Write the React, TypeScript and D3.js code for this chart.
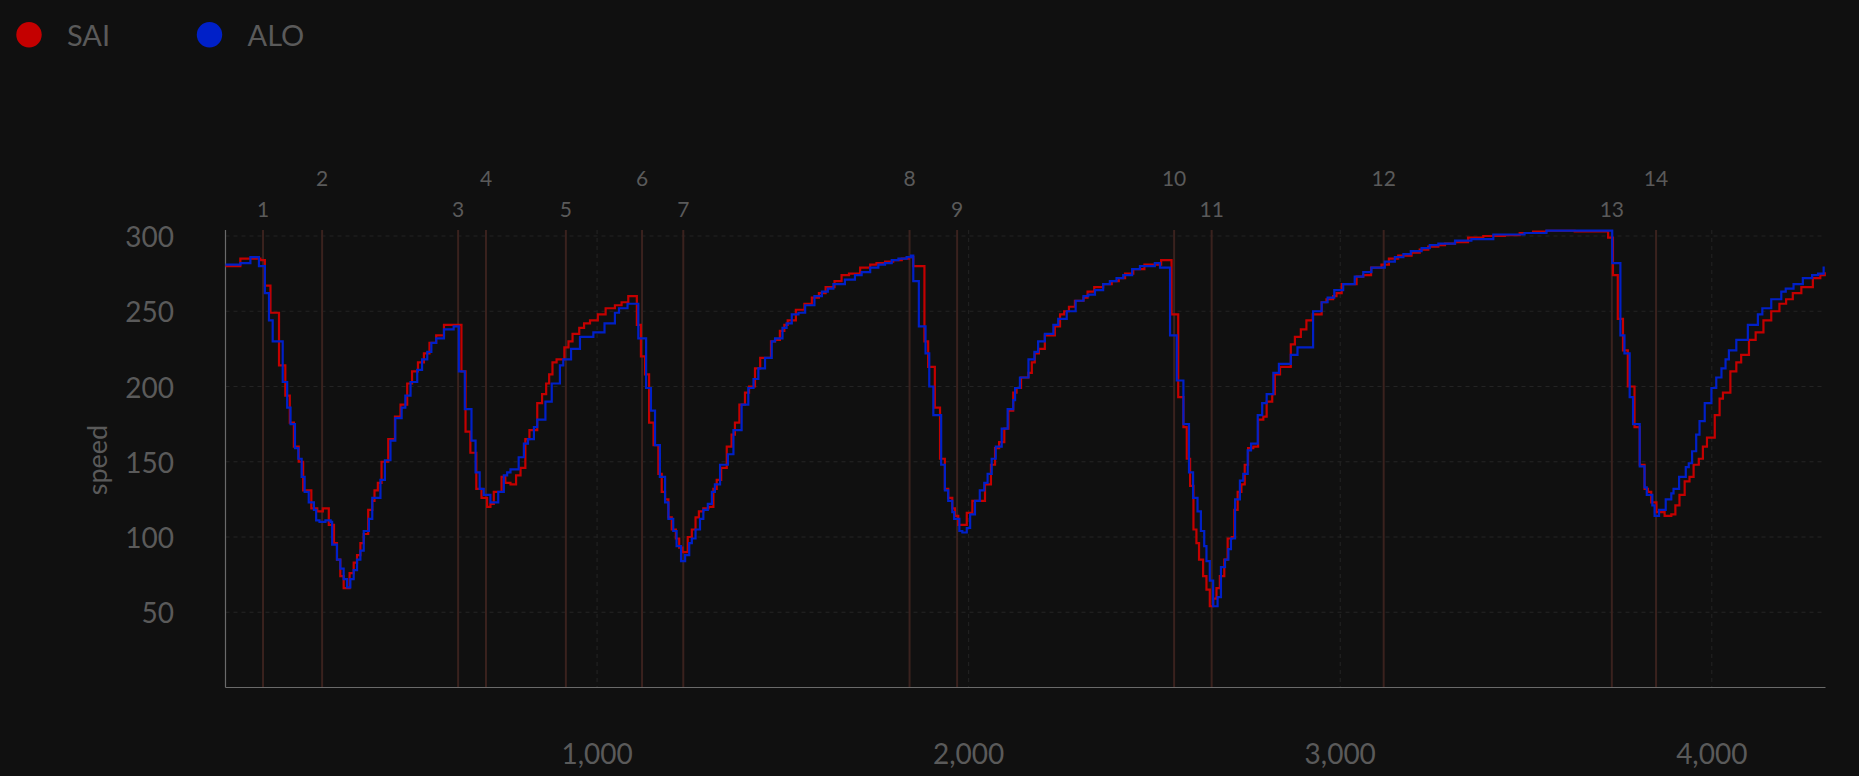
import React, { useEffect } from 'react';
import * as d3 from 'd3';

// ---- data ----
const seriesNames = ['SAI', 'ALO'];
const seriesColors = ['#c40000', '#0020c8'];

// [distance (m), speed (km/h)] step samples
const saiTrace: [number, number][] = [
  [0, 280], [40, 285], [94, 284], [106, 267], [121, 249], [144, 214], [161, 194], [173, 176], [184, 160], [197, 150],
  [209, 131], [231, 119], [247, 117], [262, 119], [278, 108], [292, 96], [300, 85], [309, 74], [318, 66], [334, 76],
  [345, 83], [354, 88], [363, 96], [372, 102], [384, 118], [395, 124], [401, 131], [410, 136], [420, 150], [438, 165],
  [456, 180], [471, 188], [489, 202], [502, 210], [518, 216], [534, 222], [549, 229], [567, 234], [588, 241], [635, 210],
  [646, 170], [659, 156], [675, 132], [689, 126], [704, 120], [713, 122], [722, 130], [743, 140], [753, 136], [767, 135],
  [782, 141], [794, 146], [807, 165], [818, 171], [839, 189], [852, 195], [863, 202], [871, 208], [880, 216], [891, 218],
  [912, 226], [923, 230], [934, 235], [952, 239], [965, 242], [981, 244], [1002, 248], [1023, 252], [1048, 254], [1066, 256],
  [1084, 260], [1107, 241], [1118, 220], [1129, 208], [1140, 176], [1152, 161], [1165, 142], [1174, 130], [1183, 125], [1192, 113],
  [1201, 105], [1212, 99], [1221, 93], [1230, 90], [1244, 100], [1255, 105], [1265, 113], [1274, 117], [1286, 119], [1300, 120],
  [1313, 132], [1322, 138], [1334, 146], [1349, 160], [1362, 168], [1371, 176], [1383, 188], [1398, 196], [1409, 200], [1425, 212],
  [1439, 219], [1468, 230], [1479, 231], [1492, 237], [1504, 241], [1513, 244], [1535, 251], [1558, 255], [1578, 259], [1597, 262],
  [1615, 266], [1639, 270], [1658, 274], [1678, 275], [1708, 279], [1735, 281], [1752, 282], [1775, 283], [1797, 284], [1820, 285],
  [1839, 286], [1851, 280], [1881, 230], [1891, 213], [1909, 186], [1923, 152], [1936, 132], [1945, 126], [1956, 119], [1963, 114],
  [1972, 108], [1995, 116], [2010, 124], [2044, 135], [2060, 148], [2071, 159], [2082, 163], [2096, 172], [2107, 184], [2120, 196],
  [2129, 199], [2141, 206], [2161, 209], [2170, 216], [2178, 222], [2189, 225], [2205, 234], [2232, 240], [2246, 248], [2257, 250],
  [2270, 253], [2286, 257], [2309, 259], [2320, 263], [2338, 266], [2362, 268], [2385, 270], [2404, 272], [2421, 275], [2443, 278],
  [2473, 281], [2518, 284], [2546, 248], [2564, 193], [2578, 173], [2587, 152], [2596, 134], [2605, 105], [2613, 96], [2620, 85],
  [2631, 74], [2640, 65], [2649, 54], [2658, 59], [2667, 66], [2676, 74], [2688, 85], [2697, 99], [2708, 100], [2715, 118],
  [2724, 130], [2734, 135], [2743, 148], [2752, 159], [2766, 160], [2779, 178], [2793, 180], [2802, 190], [2817, 195], [2824, 208],
  [2838, 213], [2867, 228], [2878, 233], [2894, 238], [2909, 244], [2926, 248], [2950, 256], [2963, 258], [2981, 260], [2990, 262],
  [3004, 268], [3044, 273], [3062, 274], [3083, 279], [3111, 281], [3131, 285], [3156, 287], [3192, 289], [3214, 291], [3237, 293],
  [3264, 294], [3282, 295], [3309, 296], [3344, 299], [3385, 300], [3443, 300.5], [3483, 302], [3519, 303], [3555, 303.5], [3631, 303],
  [3721, 299], [3734, 274], [3747, 245], [3761, 224], [3774, 200], [3792, 173], [3806, 148], [3819, 132], [3828, 130], [3837, 123],
  [3851, 116.5], [3873, 114], [3891, 115], [3902, 121], [3913, 128], [3927, 137], [3940, 140], [3951, 148], [3965, 152], [3976, 160],
  [3987, 166], [4008, 181], [4021, 192], [4030, 196], [4050, 210], [4066, 216], [4079, 221], [4100, 231], [4118, 236], [4139, 244],
  [4160, 250], [4182, 255], [4200, 258], [4218, 262], [4241, 266], [4272, 272], [4292, 274], [4304, 276],
];

const aloTrace: [number, number][] = [
  [0, 281], [40, 282], [67, 286], [90, 280], [106, 262], [117, 244], [127, 230], [154, 203], [166, 186], [175, 175],
  [187, 159], [196, 152], [205, 140], [213, 130], [224, 123], [238, 118], [244, 111], [253, 110], [269, 111], [283, 110],
  [287, 95], [300, 85], [309, 79], [318, 72], [327, 66.5], [336, 72], [345, 78], [354, 85], [363, 91], [372, 104],
  [386, 112], [395, 126], [417, 138], [429, 151], [444, 164], [457, 179], [474, 186], [484, 194], [498, 203], [516, 211],
  [529, 218], [543, 223], [554, 229], [567, 232], [588, 238], [614, 240], [628, 210], [644, 185], [662, 164], [673, 143],
  [684, 132], [695, 128], [713, 123], [734, 130], [749, 141], [758, 143], [767, 145], [789, 153], [803, 162], [814, 165],
  [830, 173], [839, 178], [861, 190], [878, 202], [900, 214], [909, 218], [930, 225], [954, 233], [990, 236], [1020, 242],
  [1048, 249], [1059, 252], [1082, 255], [1111, 232], [1132, 199], [1145, 184], [1156, 161], [1169, 140], [1183, 123], [1192, 112],
  [1205, 104], [1214, 94], [1226, 84], [1237, 88], [1248, 96], [1255, 99], [1265, 105], [1277, 112], [1286, 118], [1298, 122],
  [1309, 130], [1317, 135], [1331, 148], [1352, 155], [1367, 171], [1389, 188], [1407, 199], [1421, 205], [1434, 212], [1452, 219],
  [1470, 230], [1479, 232], [1499, 239], [1510, 242], [1524, 248], [1542, 249], [1560, 254], [1585, 260], [1605, 263], [1621, 265],
  [1636, 268], [1667, 271], [1694, 274], [1712, 276], [1735, 279], [1757, 281], [1775, 282], [1793, 284], [1811, 285], [1833, 286],
  [1845, 287], [1851, 270], [1866, 240], [1884, 222], [1894, 200], [1905, 181], [1926, 148], [1936, 131], [1945, 124], [1956, 116.5],
  [1961, 112], [1975, 104], [1983, 103], [1995, 106], [2004, 115], [2017, 124], [2030, 131], [2042, 136], [2051, 142], [2062, 152],
  [2073, 160], [2089, 172], [2105, 185], [2120, 191], [2125, 199], [2138, 206], [2161, 218], [2177, 223], [2187, 230], [2205, 235],
  [2228, 241], [2241, 245], [2264, 250], [2288, 257], [2309, 260], [2322, 261], [2340, 264], [2362, 268], [2380, 270], [2398, 272],
  [2416, 274], [2440, 278], [2461, 280], [2501, 282], [2515, 279], [2542, 234], [2560, 204], [2578, 175], [2593, 143], [2604, 126],
  [2616, 117], [2625, 104], [2634, 94], [2640, 84], [2649, 71], [2658, 54], [2670, 60], [2679, 80], [2690, 85], [2699, 92],
  [2706, 99], [2717, 125], [2730, 137.5], [2739, 142], [2751, 157.6], [2760, 162], [2778, 181], [2790, 189], [2802, 195], [2820, 209],
  [2835, 215], [2867, 221], [2885, 226], [2927, 250], [2950, 256], [2966, 259], [2984, 264], [3008, 268], [3039, 273], [3062, 276],
  [3084, 279], [3120, 283], [3147, 286], [3170, 288], [3190, 290], [3219, 292], [3241, 294], [3264, 295], [3309, 297], [3353, 298],
  [3412, 301], [3496, 302], [3555, 303.6], [3732, 282], [3754, 234], [3765, 222], [3779, 193], [3788, 175], [3806, 147], [3819, 133],
  [3825, 128], [3840, 121], [3846, 114], [3858, 118], [3876, 125], [3891, 129], [3897, 132], [3912, 140], [3930, 146.5], [3938, 149],
  [3947, 157], [3958, 168], [3967, 177], [3981, 189], [3999, 199], [4012, 206], [4026, 212], [4037, 218], [4046, 224], [4066, 231],
  [4097, 241], [4124, 248], [4136, 252], [4160, 258], [4187, 263], [4199, 265], [4220, 268], [4245, 272], [4270, 274], [4286, 275],
  [4301, 279], [4304, 279],
];

const turnNumbers = [1, 2, 3, 4, 5, 6, 7, 8, 9, 10, 11, 12, 13, 14];
const turnDist = [101, 260, 626, 701, 916, 1121, 1232, 1841, 1969, 2553, 2654, 3117, 3731, 3850];
const yTicks = [50, 100, 150, 200, 250, 300];
const xTicks = [1000, 2000, 3000, 4000];
const xMax = 4306;
const yMax = 304;

// ---- layout ----
const W = 1859;
const H = 776;
const M = { left: 225.5, right: 1825.5, top: 230, bottom: 687.5 };
const FONT = "Lato, 'Open Sans', sans-serif";
const TEXT = '#5a5a5a';
const BG = '#101010';

export default function App() {
  useEffect(() => {
    document.body.style.margin = '0';
    document.body.style.background = BG;
  }, []);

  const x = d3.scaleLinear().domain([0, xMax]).range([M.left, M.right]);
  const y = d3.scaleLinear().domain([0, yMax]).range([M.bottom, M.top]);
  const line = d3
    .line<[number, number]>()
    .x((d) => x(d[0]))
    .y((d) => y(d[1]))
    .curve(d3.curveStepAfter);
  const traces = [saiTrace, aloTrace];
  const fmt = d3.format(',');

  return (
    <svg width={W} height={H} style={{ position: 'absolute', left: 0, top: 0, display: 'block' }} fontFamily={FONT}>
      <rect x={0} y={0} width={W} height={H} fill={BG} />

      {/* legend */}
      {seriesNames.map((n, i) => (
        <g key={n} transform={`translate(${29 + i * 180.5},0)`}>
          <circle cx={0} cy={34.7} r={12.7} fill={seriesColors[i]} />
          <text x={38} y={46} fontSize={29} fill={TEXT}>{n}</text>
        </g>
      ))}

      {/* horizontal grid */}
      {yTicks.map((t) => (
        <line key={'gy' + t} x1={M.left} x2={M.right} y1={y(t)} y2={y(t)} stroke="#242424" strokeWidth={1} strokeDasharray="4,4" />
      ))}
      {/* vertical grid */}
      {xTicks.map((t) => (
        <line key={'gx' + t} x1={x(t)} x2={x(t)} y1={M.top} y2={M.bottom} stroke="#242424" strokeWidth={1} strokeDasharray="4,4" />
      ))}

      {/* turn markers */}
      {turnDist.map((d, i) => (
        <g key={'t' + i}>
          <line x1={x(d)} x2={x(d)} y1={M.top} y2={M.bottom} stroke="#3a221e" strokeWidth={2} />
          <text x={x(d)} y={turnNumbers[i] % 2 === 0 ? 185.7 : 217} fontSize={21} fill={TEXT} textAnchor="middle">
            {turnNumbers[i]}
          </text>
        </g>
      ))}

      {/* axes */}
      <line x1={M.left} x2={M.left} y1={M.top} y2={M.bottom} stroke="#6a6a6a" strokeWidth={1.2} />
      <line x1={M.left} x2={M.right} y1={M.bottom} y2={M.bottom} stroke="#6a6a6a" strokeWidth={1.2} />

      {yTicks.map((t) => (
        <text key={'yl' + t} x={174} y={y(t) + 11} fontSize={28} fill={TEXT} textAnchor="end">{t}</text>
      ))}
      {xTicks.map((t) => (
        <text key={'xl' + t} x={x(t)} y={764} fontSize={28} fill={TEXT} textAnchor="middle">{fmt(t)}</text>
      ))}
      <text transform={`translate(107,460) rotate(-90)`} fontSize={27} fill={TEXT} textAnchor="middle">speed</text>

      {/* series */}
      {traces.map((tr, i) => (
        <path key={'s' + i} d={line(tr) || ''} fill="none" stroke={seriesColors[i]} strokeWidth={2.2} strokeLinejoin="miter" />
      ))}
    </svg>
  );
}
